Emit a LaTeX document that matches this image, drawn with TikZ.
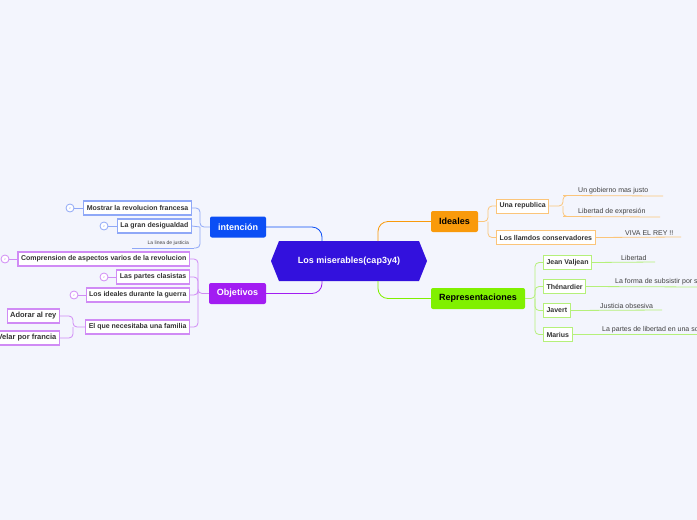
\documentclass[tikz,border=0pt]{standalone}
\usepackage{fontspec}
\setmainfont{Liberation Sans}
\definecolor{bg}{HTML}{F3F5FD}
\definecolor{cen}{HTML}{3311DD}
\definecolor{cblue}{HTML}{0B4EF5}
\definecolor{lblue}{HTML}{8FA8F7}
\definecolor{cpur}{HTML}{A21CF2}
\definecolor{lpur}{HTML}{D08BF5}
\definecolor{cora}{HTML}{F99A0B}
\definecolor{lora}{HTML}{FBC57A}
\definecolor{cgre}{HTML}{80F000}
\definecolor{lgre}{HTML}{B5F07A}
\begin{document}
\begin{tikzpicture}[x=1pt,y=-1pt,
  main/.style={rounded corners=2,text=white,font=\fontsize{9}{10}\selectfont\bfseries,minimum height=21,inner xsep=4},
  sub/.style={draw,line width=1.2,fill=white,font=\fontsize{7}{8}\selectfont\bfseries,text=black!80,minimum height=14,inner xsep=3,inner ysep=1},
  leaf/.style={font=\fontsize{7}{8}\selectfont,text=black!75,inner xsep=3,inner ysep=1.5},
  ico/.style={circle,draw,line width=0.8,minimum size=8,inner sep=0,fill=white,font=\fontsize{3}{3}\selectfont},
  lk/.style={line width=0.8,rounded corners=4}]
\useasboundingbox (0,0) rectangle (697,520);
\fill[bg] (0,0) rectangle (697,520);
\clip (0,0) rectangle (697,520);
% center
\fill[cen] (271,261) -- (279,241) -- (419,241) -- (427,261) -- (419,281) -- (279,281) -- cycle;
\node[text=white,font=\fontsize{9}{10}\selectfont\bfseries] (c) at (349,261) {Los miserables(cap3y4)};
\coordinate (ct1) at (322,241); \coordinate (cb1) at (322,281);
\coordinate (ct2) at (378,241); \coordinate (cb2) at (378,281);
% main branches
\node[main,fill=cblue,minimum width=56] (int) at (238,227) {intención};
\node[main,fill=cpur,minimum width=57] (obj) at (237.5,293.5) {Objetivos};
\node[main,fill=cora,text=black,minimum width=47] (ide) at (454.5,221.5) {Ideales};
\node[main,fill=cgre,text=black,minimum width=94] (rep) at (478,298.5) {Representaciones};
\draw[lk,cblue,rounded corners=10] (ct1) |- (int.east);
\draw[lk,cpur,rounded corners=10] (cb1) |- (obj.east);
\draw[lk,cora,rounded corners=10] (ct2) |- (ide.west);
\draw[lk,cgre,rounded corners=10] (cb2) |- (rep.west);
% intencion
\node[sub,draw=lblue,anchor=east] (i1) at (192,208) {Mostrar la revolucion francesa};
\node[sub,draw=lblue,anchor=east] (i2) at (192,226) {La gran desigualdad};
\node[leaf,anchor=south east,font=\fontsize{5}{6}\selectfont] (i3) at (192,247) {La linea de justicia};
\draw[lblue,line width=0.8] (132,248) -- (194,248);
\node[ico,draw=lblue,text=lblue] (ic1) at (70,208) {2};
\node[ico,draw=lblue,text=lblue] (ic2) at (104,226) {2};
\draw[lblue,line width=0.8] (ic1) -- (i1.west);
\draw[lblue,line width=0.8] (ic2) -- (i2.west);
\draw[lk,lblue] (int.west) -- (200,227) |- (i1.east);
\draw[lk,lblue] (200,227) -- (i2.east);
\draw[lk,lblue] (200,227) |- (194,248);
% objetivos
\node[sub,draw=lpur,anchor=east] (o1) at (190,259) {Comprension de aspectos varios de la revolucion};
\node[sub,draw=lpur,anchor=east] (o2) at (190,277) {Las partes clasistas};
\node[sub,draw=lpur,anchor=east] (o3) at (190,295) {Los ideales durante la guerra};
\node[sub,draw=lpur,anchor=east] (o4) at (190,327) {El que necesitaba una familia};
\node[ico,draw=lpur,text=lpur] (oc1) at (5,259) {2};
\node[ico,draw=lpur,text=lpur] (oc2) at (104,277) {2};
\node[ico,draw=lpur,text=lpur] (oc3) at (74,295) {2};
\draw[lpur,line width=0.8] (oc1) -- (o1.west);
\draw[lpur,line width=0.8] (oc2) -- (o2.west);
\draw[lpur,line width=0.8] (oc3) -- (o3.west);
\coordinate (ob) at (198,293.5);
\draw[lk,lpur] (obj.west) -- (ob) |- (o1.east);
\draw[lk,lpur] (ob) |- (o2.east);
\draw[lk,lpur] (ob) |- (o3.east);
\draw[lk,lpur] (ob) |- (o4.east);
\node[sub,draw=lpur,anchor=east,font=\fontsize{7.5}{8}\selectfont\bfseries] (o41) at (60,316) {Adorar al rey};
\node[sub,draw=lpur,anchor=east,font=\fontsize{7.5}{8}\selectfont\bfseries] (o42) at (60,338) {Velar por francia};
\coordinate (obb) at (73,327);
\draw[lk,lpur] (o4.west) -- (obb) |- (o41.east);
\draw[lk,lpur] (obb) |- (o42.east);
% ideales
\node[sub,draw=lora,anchor=west,line width=1] (d1) at (496,206) {Una republica};
\node[sub,draw=lora,anchor=west,line width=1] (d2) at (496,237.5) {Los llamdos conservadores};
\coordinate (db) at (488,221.5);
\draw[lk,lora] (ide.east) -- (db) |- (d1.west);
\draw[lk,lora] (db) |- (d2.west);
\node[leaf,anchor=south west] (d11) at (575,195.5) {Un gobierno mas justo};
\node[leaf,anchor=south west] (d12) at (575,216.5) {Libertad de expresión};
\draw[lora,line width=0.8] (d11.south west) ++(-12,0) -- (663,196);
\draw[lora,line width=0.8] (d12.south west) ++(-12,0) -- (660,217);
\coordinate (dbb) at (563,206);
\draw[lk,lora] (d1.east) -- (dbb) |- (d11.south west);
\draw[lk,lora] (dbb) |- (d12.south west);
\node[leaf,anchor=south west] (d21) at (622,237) {VIVA EL REY !!};
\draw[lk,lora] (d2.east) -- (681,237);
% representaciones
\node[sub,draw=lgre,anchor=west,line width=1] (r1) at (543,262.5) {Jean Valjean};
\node[sub,draw=lgre,anchor=west,line width=1] (r2) at (543,286.5) {Thénardier};
\node[sub,draw=lgre,anchor=west,line width=1] (r3) at (543,310.5) {Javert};
\node[sub,draw=lgre,anchor=west,line width=1] (r4) at (543,334.5) {Marius};
\coordinate (rb) at (535,298.5);
\draw[lk,lgre] (rep.east) -- (rb) |- (r1.west);
\draw[lk,lgre] (rb) |- (r2.west);
\draw[lk,lgre] (rb) |- (r3.west);
\draw[lk,lgre] (rb) |- (r4.west);
\node[leaf,anchor=south west] (r11) at (618,262) {Libertad};
\node[leaf,anchor=south west] (r21) at (612,287) {La forma de subsistir por su cuenta};
\node[leaf,anchor=south west] (r31) at (597,310) {Justicia obsesiva};
\node[leaf,anchor=south west] (r41) at (599,334.5) {La partes de libertad en una sociedad};
\draw[lk,lgre] (r1.east) -- (655,262);
\draw[lk,lgre] (r2.east) -- (700,287);
\draw[lk,lgre] (r3.east) -- (662,310);
\draw[lk,lgre] (r4.east) -- (700,334.5);
\end{tikzpicture}
\end{document}
